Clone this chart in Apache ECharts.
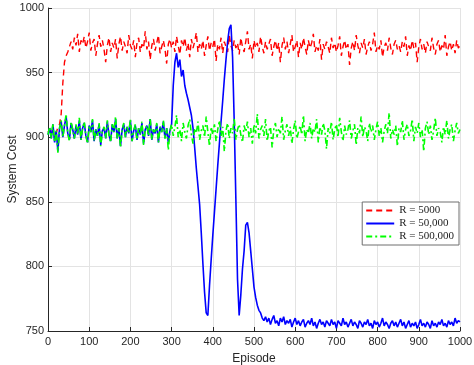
<!DOCTYPE html>
<html>
<head>
<meta charset="utf-8">
<script src="https://cdn.jsdelivr.net/npm/echarts@6/dist/echarts.min.js"></script>
<style>
  html, body { margin: 0; padding: 0; background: #fff; }
  #chart { width: 474px; height: 365px; }
</style>
</head>
<body>
<div id="chart"></div>
<script>
// episode grid, one sample every 4 episodes
const episodes = Array.from({length: 251}, (_, i) => i * 4);

// R = 5000
const costR5000 = [
  904, 906, 902, 907, 905, 903, 908, 910,
  918, 942, 958, 963, 966, 970,
  974, 968, 977, 971, 980, 966, 975, 972, 978, 969, 974, 981, 967, 973, 976, 963, 972, 979, 970, 975,
  968, 958, 971, 977, 966, 973, 969, 976, 961, 972, 978, 967, 974, 970, 965, 979, 971, 968, 975, 962,
  973, 977, 966, 972, 969, 982, 968, 974, 960, 971, 976, 967, 973, 979, 965, 970, 975, 968, 957, 972,
  976, 969, 974, 966, 978, 971, 964, 975, 970, 977, 967, 973, 962, 976, 969, 974, 981, 966, 972, 968,
  975, 963, 971, 978, 967, 973, 970, 976, 959, 972, 968, 977, 965, 974, 970, 966, 979, 971, 967, 975,
  969, 973, 964, 977, 970, 966, 974, 982, 968, 972, 961, 975, 969, 973, 966, 978, 970, 965, 974, 968,
  972, 976, 963, 970, 975, 967, 973, 958, 971, 977, 968, 974, 965, 972, 979, 966, 970, 975, 962, 973,
  968, 977, 970, 964, 975, 969, 973, 980, 966, 971, 967, 976, 960, 972, 968, 974, 970, 965, 977, 969,
  973, 966, 971, 978, 963, 970, 975, 968, 972, 956, 969, 974, 967, 979, 971, 965, 973, 969, 976, 964,
  970, 974, 967, 972, 981, 966, 971, 968, 975, 962, 970, 973, 967, 977, 969, 964, 972, 975, 968, 971,
  966, 974, 970, 978, 963, 971, 967, 975, 969, 973, 958, 970, 976, 968, 972, 965, 974, 970, 967, 977,
  969, 964, 972, 975, 966, 971, 968, 979, 963, 970, 974, 967, 972, 965, 975, 969, 971
];

// R = 50,000
const costR50000 = [
  902, 907, 899, 910, 896, 905, 889, 907, 912, 900, 909, 916, 903, 898, 911, 906, 899, 909, 902, 913,
  898, 907, 911, 901, 896, 909, 904, 913, 897, 906, 901, 910, 894, 905, 907, 899, 912, 902, 897, 910,
  904, 914, 899, 907, 893, 906, 910, 900, 908, 903, 913, 897, 905, 909, 898, 907, 902, 911, 895, 906,
  909, 901, 914, 898, 906, 903, 910, 896, 908, 904, 912, 899, 907, 896, 905,
  910, 940, 958, 965, 954, 960, 947, 952, 940, 934, 929, 923, 917, 907, 892, 876, 862, 848, 826, 802,
  780, 764, 762, 785, 805, 824, 842, 860, 878, 895, 912, 928, 945, 960, 974, 984, 987, 962, 912, 852,
  790, 762, 778, 798, 812, 832, 834, 826, 812, 798, 784, 776, 770, 766, 764, 760,
  758, 761, 757, 760, 755, 759, 762, 756, 758, 754, 760, 757, 761, 755, 758, 756, 759, 753, 757, 760,
  755, 758, 754, 757, 759, 753, 756, 758, 755, 760, 754, 757, 752, 756, 759, 755, 757, 753, 758, 756,
  754, 759, 755, 757, 752, 758, 756, 754, 760, 755, 757, 753, 756, 759, 754, 757, 755, 752, 758, 756,
  753, 757, 755, 759, 754, 756, 752, 758, 755, 757, 753, 756, 760, 754, 757, 755, 752, 756, 758, 754,
  757, 753, 756, 759, 754, 757, 752, 755, 758, 753, 756, 754, 757, 752, 755, 759, 754, 756, 753, 757,
  755, 752, 758, 754, 756, 753, 757, 755, 759, 754, 756, 753, 758, 755, 757, 754, 760, 756, 758, 757
];

// R = 500,000
const costR500000 = [
  902, 908, 899, 911, 896, 905, 888, 907, 913, 900, 909, 918, 903, 897, 912, 906, 899, 910, 902, 915,
  898, 907, 912, 901, 895, 909, 904, 914, 897, 906, 901, 911, 893, 905, 908, 899, 913, 902, 896, 910,
  904, 916, 899, 907, 892, 906, 911, 900, 908, 903, 914, 897, 905, 910, 898, 907, 902, 912, 894, 906,
  909, 901, 915, 898, 906, 903, 911, 896, 908, 904, 913, 899, 907, 890, 905, 910, 901, 908, 917, 900,
  906, 897, 911, 904, 899, 909, 914, 902, 895, 907, 903, 912, 898, 905, 909, 900, 916, 904, 893, 908,
  902, 910, 897, 906, 913, 901, 908, 889, 905, 911, 899, 907, 903, 915, 898, 906, 910, 902, 896, 909,
  904, 912, 900, 907, 895, 910, 903, 918, 899, 906, 909, 901, 914, 897, 905, 908, 892, 906, 911, 900,
  907, 903, 916, 898, 905, 910, 901, 908, 895, 906, 913, 899, 904, 909, 902, 917, 897, 906, 903, 911,
  899, 907, 904, 914, 896, 908, 902, 911, 905, 891, 907, 903, 912, 898, 906, 910, 900, 915, 904, 897,
  909, 902, 906, 913, 899, 905, 910, 894, 907, 903, 916, 900, 908, 905, 897, 911, 904, 909, 898, 906,
  912, 901, 907, 896, 905, 910, 903, 919, 899, 906, 902, 909, 893, 907, 904, 913, 898, 906, 910, 901,
  905, 914, 897, 908, 903, 911, 900, 906, 889, 907, 912, 902, 909, 898, 905, 915, 901, 907, 904, 896,
  908, 902, 913, 899, 906, 910, 897, 905, 911, 903, 906
];

const seriesNames = ['R = 5000', 'R = 50,000', 'R = 500,000'];

const myChart = echarts.init(document.getElementById('chart'));

const pairs = arr => episodes.map((e, i) => [e, arr[i]]);

const axisColor = '#262626';
const gridColor = '#e3e3e3';

const option = {
    backgroundColor: '#fff',
    animation: false,
    grid: {
        left: 48,
        right: 14,
        top: 8,
        bottom: 34,
        outerBoundsMode: 'none'
    },
    legend: {
        data: seriesNames,
        right: 15,
        top: 202,
        orient: 'vertical',
        itemWidth: 28,
        itemHeight: 10,
        itemGap: 2,
        padding: [3, 5, 3, 3],
        backgroundColor: '#fff',
        borderColor: '#6e6e6e',
        borderWidth: 1,
        borderRadius: 0,
        itemStyle: { opacity: 0 },
        textStyle: {
            fontFamily: 'Liberation Serif',
            fontSize: 11,
            color: '#222'
        }
    },
    xAxis: {
        type: 'value',
        min: 0,
        max: 1000,
        interval: 100,
        name: 'Episode',
        nameLocation: 'middle',
        nameGap: 22,
        nameMoveOverlap: false,
        nameTextStyle: { fontFamily: 'Liberation Sans', fontSize: 12, color: axisColor },
        axisLine: { lineStyle: { color: axisColor, width: 1 } },
        axisTick: { inside: true, length: 4, lineStyle: { color: axisColor } },
        axisLabel: { fontFamily: 'Liberation Sans', fontSize: 11, color: axisColor, margin: 5, formatter: v => String(v) },
        splitLine: { show: true, lineStyle: { color: gridColor, width: 1 } }
    },
    yAxis: {
        type: 'value',
        min: 750,
        max: 1000,
        interval: 50,
        name: 'System Cost',
        nameLocation: 'middle',
        nameGap: 29,
        nameMoveOverlap: false,
        nameTextStyle: { fontFamily: 'Liberation Sans', fontSize: 12, color: axisColor },
        axisLine: { show: true, lineStyle: { color: axisColor, width: 1 } },
        axisTick: { show: true, inside: true, length: 4, lineStyle: { color: axisColor } },
        axisLabel: { fontFamily: 'Liberation Sans', fontSize: 11, color: axisColor, margin: 4, formatter: v => String(v) },
        splitLine: { show: true, lineStyle: { color: gridColor, width: 1 } }
    },
    series: [
        {
            name: seriesNames[0],
            type: 'line',
            symbol: 'none',
            data: pairs(costR5000),
            z: 2,
            lineStyle: { color: '#ff0000', width: 1.4, type: [6, 4] },
            itemStyle: { color: '#ff0000' }
        },
        {
            name: seriesNames[1],
            type: 'line',
            symbol: 'none',
            data: pairs(costR50000),
            z: 3,
            lineStyle: { color: '#0000ff', width: 1.6, type: 'solid' },
            itemStyle: { color: '#0000ff' }
        },
        {
            name: seriesNames[2],
            type: 'line',
            symbol: 'none',
            data: pairs(costR500000),
            z: 4,
            lineStyle: { color: '#00ff00', width: 1.6, type: [6, 3, 2, 3] },
            itemStyle: { color: '#00ff00' }
        }
    ]
};

myChart.setOption(option, true);
</script>
</body>
</html>
